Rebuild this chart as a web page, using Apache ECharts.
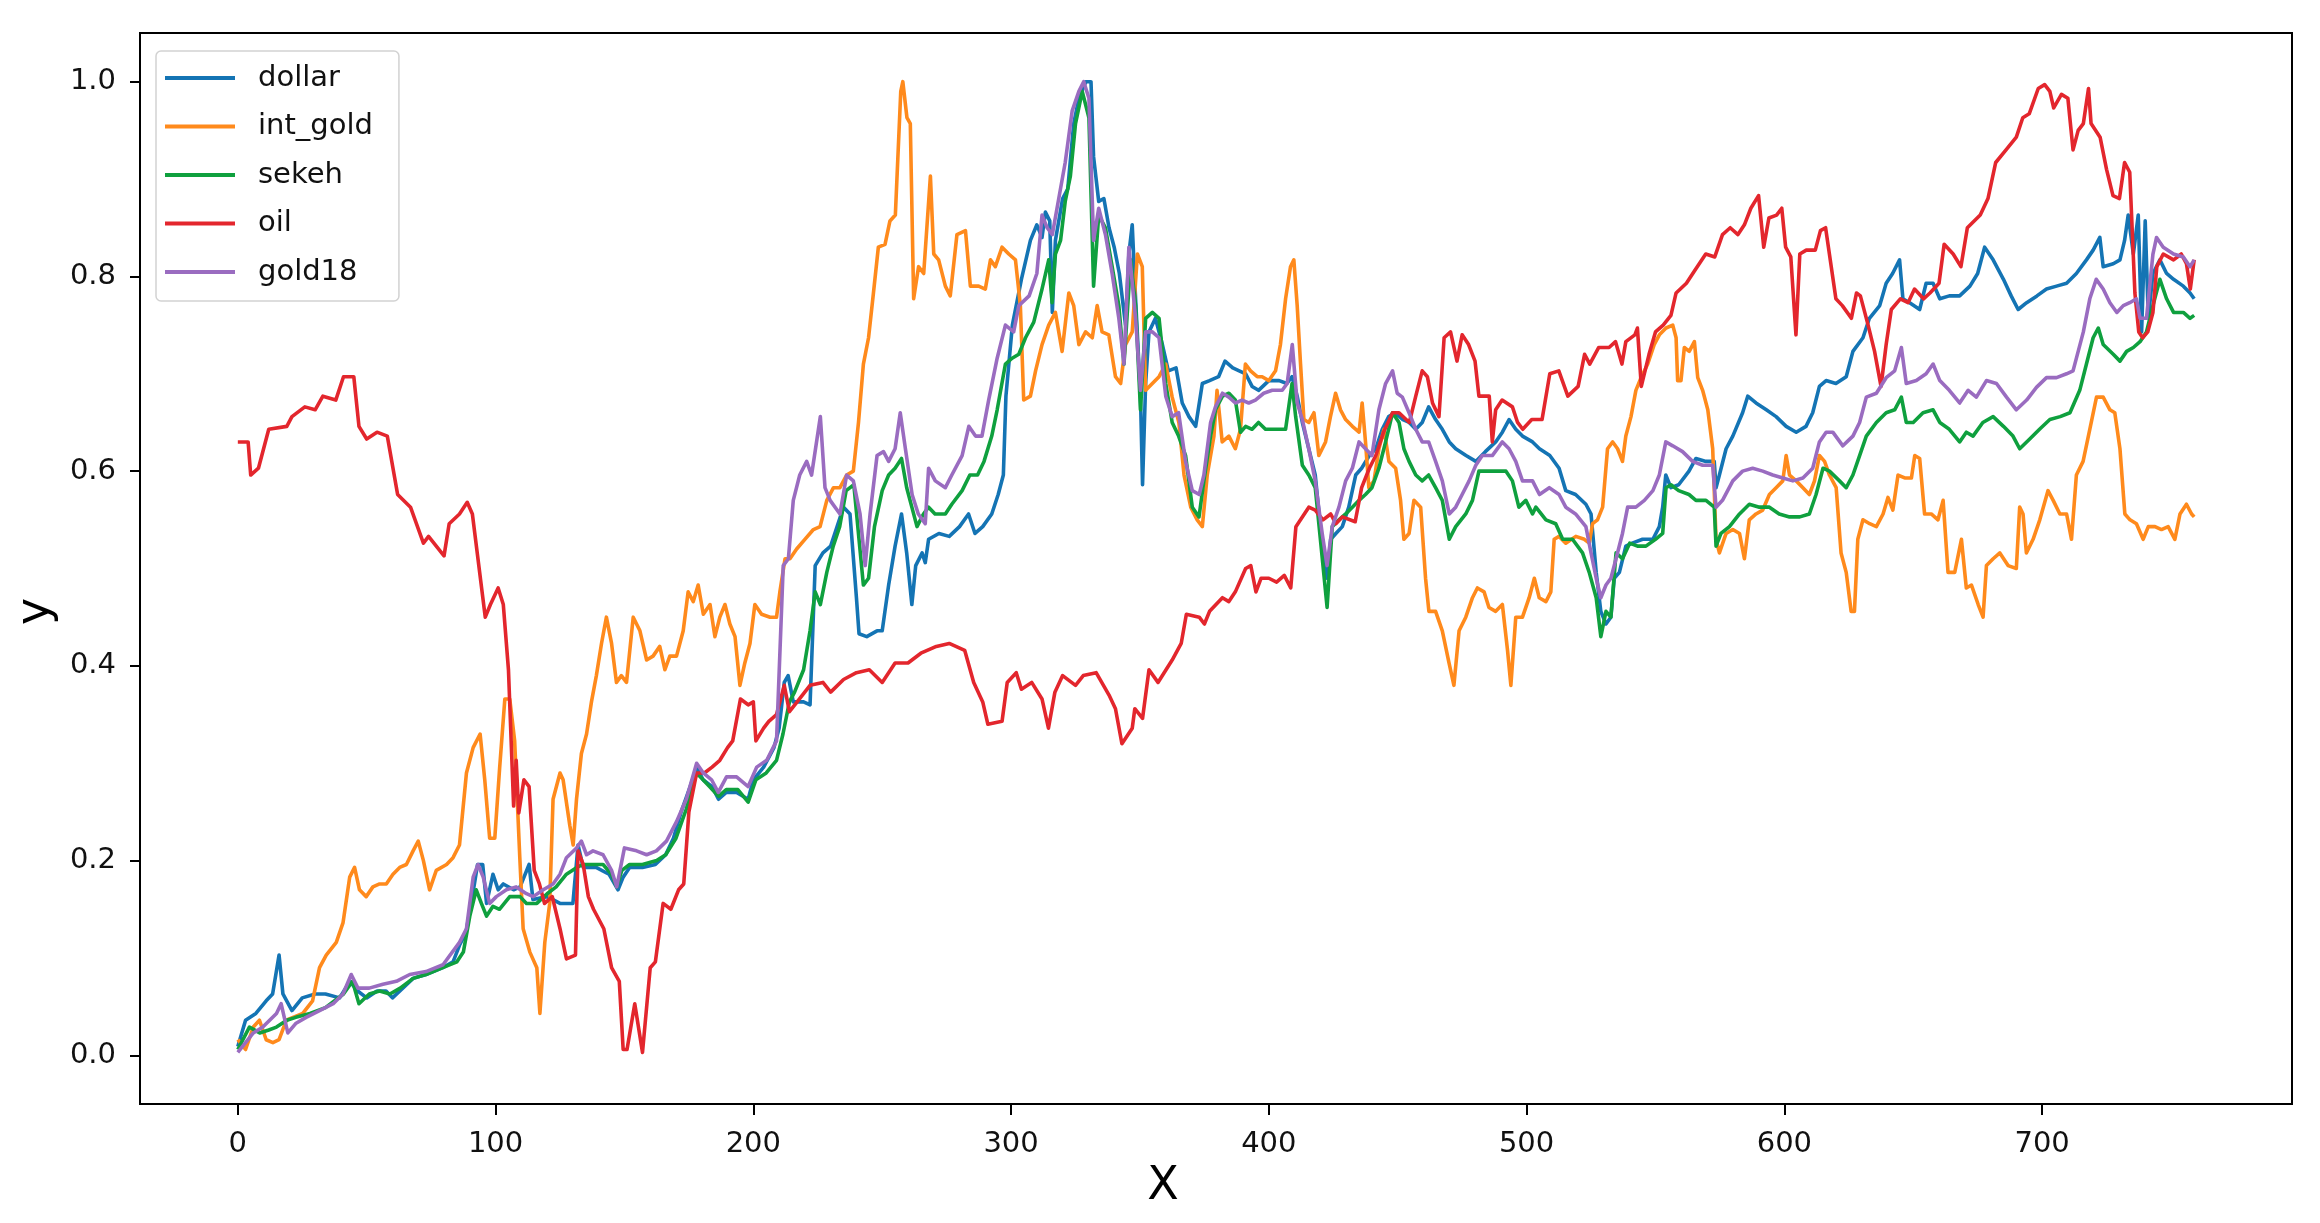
<!DOCTYPE html>
<html>
<head>
<meta charset="utf-8">
<title>dollar / int_gold / sekeh / oil / gold18</title>
<script src="https://cdn.jsdelivr.net/npm/echarts@6/dist/echarts.min.js"></script>
<style>
    html, body {margin:0;padding:0;background:#fff;}
    #chart {width:2320px;height:1223px;}
</style>
</head>
<body>
<div id="chart"></div>
<script>
    // values, [x, y]
    var names = ['dollar', 'int_gold', 'sekeh', 'oil', 'gold18'];
    var colors = ['#1474b4', '#ff8a1c', '#0fa03e', '#e3262d', '#9a6cc0'];
    var xTicks = [0, 100, 200, 300, 400, 500, 600, 700];
    var yTicks = [0, 0.2, 0.4, 0.6, 0.8, 1.0];

    var dollar = [[0,0.009],[3,0.036],[7,0.043],[11,0.056],[13.5,0.063],[16,0.103],[17.5,0.063],[21,0.046],[25,0.059],[30,0.063],[34,0.063],[39.5,0.059],[43.5,0.076],[46.5,0.066],[50,0.059],[54,0.066],[57.5,0.066],[60,0.059],[64,0.069],[68,0.079],[73,0.083],[79.5,0.09],[83.5,0.096],[86,0.113],[88.5,0.126],[91,0.163],[93,0.196],[95,0.196],[96.5,0.156],[99,0.186],[101,0.17],[103,0.176],[107,0.17],[109.5,0.173],[113,0.196],[114.5,0.16],[120,0.163],[125,0.156],
        [130,0.156],[132,0.216],[134,0.193],[139,0.193],[144,0.186],[147.5,0.17],[149.5,0.183],[152,0.193],[157,0.193],[162,0.196],[166,0.206],[169,0.223],[172,0.25],[175.5,0.276],[178,0.296],[180.5,0.283],[184,0.276],[186.5,0.263],[189.5,0.27],[193.5,0.27],[198,0.263],[200,0.283],[204,0.296],[208,0.316],[210,0.336],[212,0.383],[213.5,0.39],[215.5,0.363],[219.5,0.363],[222,0.36],[224,0.503],[227,0.516],[230,0.523],[232.5,0.543],[235,0.563],[237.5,0.556],[240,0.47],[241,0.433],[244,0.43],[248,0.436],[250,0.436],
        [252.5,0.483],[255,0.523],[257.5,0.556],[259.5,0.516],[261.5,0.463],[263,0.503],[265.5,0.516],[266.7,0.506],[268,0.53],[272,0.536],[276,0.533],[280,0.543],[283.5,0.556],[286,0.536],[289,0.543],[292.5,0.556],[295,0.576],[297,0.596],[298,0.677],[300.5,0.75],[304,0.797],[307.5,0.837],[310,0.853],[312,0.84],[313.3,0.866],[315,0.857],[316,0.763],[317.2,0.837],[320,0.88],[322,0.89],[324.3,0.957],[326.3,0.983],[329,1.0],[331,1.0],[332,0.923],[334,0.877],[336,0.88],[338,0.85],[340,0.83],[342,0.803],[344.4,0.75],[345.7,0.823],[347,0.853],[348.3,0.777],[350.2,0.677],[351,0.586],[352.2,0.69],[353.5,0.743],[356,0.757],[358.7,0.73],[361,0.703],[364,0.706],[366.4,0.67],[369,0.656],[371.6,0.646],[374.2,0.69],[377,0.693],
        [380.5,0.697],[383,0.713],[386,0.706],[388.5,0.703],[391,0.7],[393.5,0.687],[396,0.683],[400,0.693],[404,0.693],[407,0.69],[409,0.697],[411,0.677],[413,0.65],[415.5,0.623],[418,0.596],[420,0.543],[422.6,0.49],[424,0.53],[426,0.536],[428.5,0.543],[431,0.563],[433.7,0.596],[436,0.603],[439,0.616],[441.5,0.623],[444,0.643],[446.5,0.656],[449,0.66],[452,0.653],[454.5,0.65],[457,0.643],[459.5,0.65],[462,0.666],[464.7,0.653],[467.3,0.643],[470,0.63],[472.5,0.623],[476.5,0.616],[480.3,0.61],[484,0.62],[488,0.63],[490.6,0.64],[493.2,0.653],[495.8,0.643],[498.4,0.636],[502.3,0.63],
        [505,0.623],[509,0.616],[512.6,0.603],[515.2,0.58],[519,0.576],[523,0.566],[525,0.556],[527,0.496],[528.8,0.456],[530.8,0.443],[532.7,0.45],[534,0.49],[536,0.496],[538.5,0.523],[541,0.526],[545,0.53],[549,0.53],[551.5,0.543],[552.8,0.563],[554,0.596],[556,0.583],[559,0.586],[563,0.6],[565.7,0.613],[569.6,0.61],[572.8,0.61],[573.5,0.583],[574.8,0.596],[577.4,0.623],[580,0.636],[583.8,0.66],[585.8,0.677],[589,0.67],[593,0.663],[596.8,0.656],[600.7,0.646],[604.6,0.64],[608.4,0.646],[611,0.66],[613.6,0.687],[616.2,0.693],[620,0.69],[624,0.697],[626.6,0.723],
        [630.5,0.737],[633,0.757],[637,0.77],[639.5,0.793],[642,0.803],[644.7,0.817],[646,0.777],[648.6,0.773],[652.5,0.766],[655,0.793],[657.7,0.793],[660.3,0.777],[664,0.78],[668,0.78],[672,0.79],[675,0.803],[677.7,0.83],[681,0.817],[685,0.797],[688,0.78],[690.7,0.766],[694,0.773],[698,0.78],[701.7,0.787],[705.6,0.79],[709.5,0.793],[713.3,0.803],[717.2,0.817],[719.8,0.827],[722.4,0.84],[723.7,0.81],[727.6,0.813],[730.2,0.817],[732,0.837],[733.4,0.863],[735.4,0.823],[737.3,0.863],[738.6,0.743],[740,0.857],[741.2,0.757],[743,0.803],[745.7,0.817],[748.3,0.803],[751,0.797],[754.8,0.79],[757.4,0.783],[759,0.777]];

    var intGold = [[0,0.016],[3,0.006],[6,0.029],[8.4,0.036],[11,0.016],[13.6,0.013],[16,0.016],[18.8,0.036],[21.4,0.039],[25.2,0.043],[29,0.056],[31.7,0.09],[34.3,0.103],[38.2,0.116],[40.8,0.136],[43.4,0.183],[45.3,0.193],[47.2,0.17],[49.8,0.163],[52.4,0.173],[55,0.176],[57.6,0.176],[60.2,0.186],[62.8,0.193],[65.4,0.196],[68,0.21],[70,0.22],[72,0.2],[74.4,0.17],[77,0.19],[81,0.196],[83.5,0.203],[86,0.216],[88.7,0.29],[91.3,0.316],[94,0.33],[95.8,0.283],[97.7,0.223],[99.7,0.223],[101.6,0.296],[103.6,0.366],[105.5,0.366],[107.4,0.323],[109.4,0.203],[110.7,0.13],[113.3,0.106],[116,0.09],[117.2,0.043],[119.1,0.116],[121,0.156],[122.3,0.263],[125,0.29],
        [126.2,0.283],[128.8,0.236],[130.1,0.216],[131.4,0.263],[133.3,0.31],[135.3,0.33],[137.2,0.363],[139.1,0.39],[141.1,0.423],[143,0.45],[145,0.423],[146.9,0.383],[148.8,0.39],[150.8,0.383],[153.4,0.45],[156,0.436],[158.6,0.406],[161.1,0.41],[163.7,0.42],[165.7,0.396],[167.6,0.41],[170.2,0.41],[172.8,0.436],[174.7,0.476],[176.7,0.466],[178.6,0.483],[180.6,0.453],[183.2,0.463],[185.1,0.43],[187,0.45],[189,0.463],[190.9,0.443],[192.9,0.43],[194.8,0.38],[196.7,0.403],[198.7,0.423],[200.6,0.463],[203.2,0.453],[206.5,0.45],[209,0.45],[210.3,0.476],[212.3,0.51],[214.2,0.51],[216.8,0.52],[220,0.53],[223.3,0.54],[225.9,0.543],[228.5,0.57],[231.1,0.583],[233.6,0.583],[236.2,0.596],[238.8,0.6],[240.8,0.65],[242.7,0.71],[244.7,0.737],[246.6,0.783],[248.5,0.83],[251.1,0.833],
        [253,0.857],[255.1,0.863],[257.2,0.99],[258,1.0],[259.6,0.963],[260.9,0.957],[262.2,0.777],[264.1,0.81],[266.1,0.803],[268.7,0.903],[270,0.823],[271.9,0.817],[274.5,0.79],[276.4,0.78],[279,0.843],[282.3,0.847],[284.2,0.79],[287.4,0.79],[290,0.787],[292,0.817],[293.9,0.81],[296.5,0.83],[299.1,0.823],[301.7,0.817],[303.6,0.77],[304.9,0.673],[307.5,0.677],[309.5,0.703],[312,0.73],[314.6,0.75],[317.2,0.763],[319.8,0.723],[322.4,0.783],[324.3,0.77],[326.3,0.73],[328.9,0.743],[331.5,0.737],[333.4,0.77],[335.3,0.743],[337.9,0.74],[340.5,0.697],[342.5,0.69],[344.4,0.73],[347,0.743],[349,0.823],[350.9,0.81],[352.2,0.683],[354.8,0.69],[357.4,0.697],[360,0.71],[362.5,0.676],[365.1,0.65],[367.1,0.596],[369.7,0.563],[372.2,0.55],[374.2,0.543],[376.1,0.596],[378.7,0.636],
        [379.9,0.683],[381.9,0.63],[384.5,0.636],[387,0.623],[389,0.643],[390.9,0.71],[392.9,0.703],[395.5,0.697],[397.4,0.697],[400,0.693],[402.6,0.703],[404.5,0.73],[406.5,0.777],[408.4,0.81],[409.7,0.817],[411,0.77],[412.3,0.71],[413.6,0.653],[415.5,0.65],[417.5,0.66],[419.4,0.616],[422,0.63],[423.9,0.656],[425.9,0.68],[427.8,0.663],[429.8,0.653],[432.4,0.646],[435,0.64],[436.2,0.67],[437.5,0.63],[438.8,0.583],[440.8,0.59],[442.7,0.623],[444.7,0.643],[446.6,0.61],[449.2,0.603],[451.1,0.57],[452.4,0.53],[454.4,0.536],[456.3,0.57],[458.9,0.563],[460.8,0.49],[462.1,0.456],[464.7,0.456],[467.3,0.436],[469.9,0.403],[471.8,0.38],[473.8,0.436],[476.4,0.45],[479,0.47],[480.9,0.48],[483.5,0.476],[485.4,0.46],[488,0.456],[490.6,0.463],[492.6,0.416],[493.9,0.38],[495.8,0.45],[498.4,0.45],[501,0.47],[503,0.49],
        [504.9,0.47],[507.5,0.466],[509.4,0.476],[510.7,0.53],[512.6,0.533],[515.2,0.526],[519.1,0.533],[522.4,0.53],[524.3,0.526],[525.6,0.546],[527.5,0.55],[529.5,0.563],[531.4,0.623],[533.4,0.63],[535.3,0.623],[537.2,0.61],[538.5,0.636],[540.5,0.656],[542.4,0.683],[544.4,0.696],[547,0.71],[549.5,0.73],[551.5,0.74],[554.1,0.747],[556.7,0.75],[558,0.737],[558.6,0.693],[559.9,0.693],[561.2,0.727],[563.1,0.723],[565.1,0.733],[566.4,0.696],[568.3,0.683],[570.3,0.663],[572.2,0.623],[573.5,0.53],[574.8,0.516],[577.4,0.536],[580,0.54],[582.6,0.536],[584.5,0.51],[586.4,0.55],[589,0.556],[591.6,0.56],[594.2,0.576],[596.8,0.583],[599.4,0.59],[600.7,0.616],[602,0.596],[604.6,0.59],[607.2,0.583],[609.7,0.576],[611.7,0.59],[613.6,0.616],[615.6,0.61],[617.5,0.596],[620.1,0.583],[622,0.516],[624,0.496],[625.9,0.456],[627.2,0.456],
        [628.5,0.53],[630.5,0.55],[633.1,0.546],[635.7,0.543],[638.3,0.556],[640.2,0.573],[642.1,0.56],[644.1,0.596],[646.7,0.593],[649.3,0.593],[650.6,0.616],[652.5,0.613],[654.4,0.556],[657,0.556],[659.6,0.55],[661.6,0.57],[663.5,0.496],[666.1,0.496],[668.7,0.53],[670.6,0.48],[672.6,0.483],[675.2,0.463],[677.1,0.45],[678.4,0.503],[681,0.51],[683.6,0.516],[686.8,0.503],[690,0.5],[691.3,0.563],[692.6,0.556],[693.9,0.516],[696.5,0.53],[699.1,0.55],[702.3,0.58],[704.3,0.57],[706.9,0.556],[709.5,0.556],[711.4,0.53],[713.3,0.596],[715.9,0.61],[718.5,0.643],[721.1,0.676],[723.7,0.676],[726.3,0.663],[728.2,0.66],[730.2,0.623],[732.1,0.556],[734.1,0.55],[736.6,0.546],[739.2,0.53],[741.2,0.543],[743.8,0.543],[746.3,0.54],[748.9,0.543],[751.5,0.53],[753.5,0.556],[756,0.566],[758,0.556],[759,0.553]];

    var sekeh = [[0,0.006],[4.5,0.029],[8.5,0.023],[12,0.026],[15,0.029],[19,0.036],[22.5,0.039],[28,0.043],[34,0.049],[41,0.063],[44.5,0.076],[47,0.053],[51,0.063],[55,0.066],[59,0.063],[63,0.069],[68,0.079],[73,0.083],[79.5,0.09],[85,0.096],[87.5,0.106],[90,0.143],[92.5,0.17],[94.5,0.156],[96.5,0.143],[99,0.153],[101.5,0.15],[105.5,0.163],[109.5,0.163],[112,0.156],[116,0.156],[120,0.166],[123.5,0.173],
        [127.5,0.186],[131.5,0.193],[134,0.196],[138,0.196],[141.7,0.196],[145,0.186],[147,0.173],[149,0.19],[152,0.196],[157,0.196],[162.5,0.2],[166,0.206],[170,0.223],[174,0.253],[178,0.29],[180.5,0.283],[183,0.276],[186.5,0.266],[189.5,0.273],[194,0.273],[198,0.26],[201,0.283],[205,0.29],[209,0.303],[211.5,0.33],[214,0.363],[216,0.373],[219.5,0.396],[222,0.436],[224,0.476],[226,0.463],[228.5,0.496],[231,0.523],[233.5,0.543],[236,0.58],[239,0.586],[241,0.53],[242.7,0.483],[244.7,0.49],[247,0.543],[250,0.58],
        [252.5,0.596],[255,0.603],[257.5,0.613],[259.5,0.583],[261.5,0.563],[263.5,0.543],[266,0.556],[268,0.563],[270.5,0.556],[274.5,0.556],[277,0.566],[281,0.58],[284,0.596],[287,0.596],[289.5,0.61],[292.5,0.636],[294.6,0.663],[297.8,0.71],[300.4,0.716],[303,0.72],[305.6,0.737],[308.8,0.753],[312,0.787],[314.6,0.817],[315.9,0.773],[317.2,0.823],[319.2,0.837],[321,0.877],[323,0.903],[325,0.957],[327.6,0.99],[330.2,0.963],[332,0.79],[334,0.863],[336.6,0.85],[339.2,0.81],[341.8,0.77],[343.8,0.71],[346.4,0.817],[348.3,0.77],[350.2,0.663],[352.2,0.757],[354.8,0.763],[357.4,0.757],[360,0.69],[362.5,0.65],[365,0.636],[367.7,0.616],[370.3,0.563],[372.9,0.553],[374.8,0.59],[377.4,0.636],
        [379.3,0.663],[382,0.677],[384.5,0.68],[387,0.673],[389,0.64],[391,0.646],[393.5,0.643],[396,0.65],[398.7,0.643],[402.6,0.643],[406.5,0.643],[409,0.69],[410.4,0.656],[413,0.606],[415.5,0.596],[418,0.583],[420,0.53],[422.6,0.46],[424.6,0.543],[427.2,0.55],[429.8,0.556],[432.4,0.563],[435,0.57],[437.5,0.576],[440,0.583],[442.7,0.603],[445.3,0.63],[448,0.66],[450.5,0.65],[452.4,0.623],[454.4,0.61],[457,0.596],[459.5,0.59],[462,0.596],[464.7,0.583],[467.3,0.57],[470,0.53],[472.5,0.543],[476.4,0.556],[479,0.57],[481.5,0.6],[486.7,0.6],[492,0.6],[494.5,0.59],[497,0.563],[499.7,0.57],[502.3,0.556],
        [503.6,0.563],[507.5,0.55],[511.3,0.546],[514,0.53],[517.8,0.53],[521.7,0.516],[524.3,0.496],[527,0.47],[528.8,0.43],[530.8,0.456],[532.7,0.45],[534.7,0.516],[537.2,0.51],[540,0.526],[543,0.523],[546.3,0.523],[550,0.53],[552.8,0.536],[554.1,0.583],[556,0.586],[559,0.58],[563,0.576],[565.7,0.57],[569.6,0.57],[572.8,0.563],[573.5,0.523],[575.4,0.536],[578.7,0.543],[582.6,0.556],[586.4,0.566],[590.3,0.563],[594.2,0.563],[598,0.556],[602,0.553],[606,0.553],[609.7,0.556],[612.3,0.576],[615,0.603],[617.5,0.6],[621.4,0.59],[624,0.583],[626.6,0.596],
        [629.2,0.616],[631.8,0.636],[635.7,0.65],[639.5,0.66],[642.8,0.663],[645.4,0.676],[647.3,0.65],[650,0.65],[653.8,0.66],[657.7,0.663],[660.3,0.65],[664,0.643],[668,0.63],[670.6,0.64],[673.2,0.636],[677,0.65],[681,0.656],[685,0.646],[688.7,0.636],[691.3,0.623],[695.2,0.633],[699,0.643],[703,0.653],[707,0.656],[710.8,0.66],[714.6,0.683],[717.2,0.71],[719.8,0.737],[721.8,0.747],[723.7,0.73],[727.6,0.72],[730.2,0.713],[732.8,0.723],[735.4,0.727],[738,0.733],[740.5,0.743],[743,0.77],[745.7,0.797],[748.3,0.777],[751,0.763],[754.8,0.763],[757.4,0.757],[759,0.76]];

    var oil = [[0,0.63],[4,0.63],[5,0.596],[8,0.603],[12,0.643],[19,0.646],[21,0.656],[26,0.666],[30,0.663],[33,0.677],[38,0.673],[41,0.697],[45,0.697],[47,0.646],[50,0.633],[54,0.64],[58,0.636],[62,0.576],[67,0.563],[72,0.526],[74,0.533],[80,0.513],[82,0.546],[86,0.556],[89,0.568],[91,0.556],[96,0.45],[98,0.463],[101,0.48],[103,0.463],[105,0.396],[107,0.256],[108,0.303],[109,0.249],[111,0.283],[113,0.276],[115,0.19],[117,0.176],[119,0.156],[122,0.163],[125,0.13],
        [127.5,0.099],[131,0.103],[132,0.21],[134,0.196],[136,0.163],[138,0.15],[142,0.13],[145,0.09],[148,0.076],[149.5,0.006],[151,0.006],[154,0.053],[157,0.003],[160,0.09],[162,0.096],[165,0.156],[168,0.15],[171,0.17],[173,0.176],[175,0.25],[178,0.29],[181,0.29],[184,0.296],[187,0.303],[190,0.316],[192,0.323],[195,0.366],[198,0.36],[200,0.363],[201,0.323],[204,0.336],[206,0.343],[209,0.35],[212,0.38],[214,0.353],[217,0.363],[222,0.38],[227,0.383],[230,0.373],[235,0.386],[240,0.393],[245,0.396],[250,0.383],
        [255,0.403],[260,0.403],[265,0.413],[271,0.42],[276,0.423],[282,0.416],[285.5,0.383],[289,0.363],[291,0.34],[296.5,0.343],[298.5,0.383],[302,0.393],[304,0.376],[308,0.383],[312,0.366],[314.5,0.336],[317,0.373],[320,0.39],[325,0.38],[328,0.39],[333,0.393],[338,0.37],[340.5,0.356],[343,0.32],[347,0.336],[348,0.356],[351,0.346],[353.5,0.396],[357,0.383],[362.5,0.406],[366,0.423],[368,0.453],[373,0.45],[375,0.443],[377,0.456],
        [382,0.47],[384.5,0.466],[387,0.476],[391,0.5],[393,0.503],[395,0.476],[397,0.49],[400,0.49],[403,0.486],[406,0.493],[408.5,0.48],[410.5,0.543],[413,0.553],[415.5,0.563],[418,0.56],[421,0.55],[424,0.556],[426,0.546],[428.5,0.553],[433.5,0.548],[436,0.583],[439,0.603],[441.5,0.616],[444.5,0.64],[448,0.66],[450.5,0.66],[454.5,0.65],[457,0.677],[459.5,0.703],[461.5,0.697],[463.5,0.67],[466,0.656],[468,0.737],[470.5,0.743],[473,0.713],[475,0.74],[477.5,0.73],[480,0.713],[481.5,0.677],[485.5,0.677],[486.7,0.63],[488,0.663],[490.5,0.673],[494.5,0.666],[496.5,0.65],[498.5,0.643],[502,0.653],
        [506,0.653],[509,0.7],[512.5,0.703],[516,0.677],[520,0.687],[522.5,0.72],[524.5,0.71],[528,0.727],[532,0.727],[534.5,0.733],[537,0.71],[538.5,0.733],[542,0.74],[543,0.747],[544.5,0.687],[547.5,0.72],[550,0.743],[553,0.75],[556,0.76],[558,0.783],[562,0.793],[565.5,0.807],[569.5,0.823],[573,0.82],[576,0.843],[579,0.85],[582,0.843],[584.5,0.853],[587,0.87],[590,0.883],[592,0.83],[594,0.86],[597,0.863],[599,0.87],[600.5,0.83],[602.5,0.82],[604.5,0.74],[606,0.823],[608.5,0.827],[612,0.827],[614,0.847],[616,0.85],[620,0.777],[622.5,0.77],[626,0.757],[628,0.783],
        [629.5,0.78],[632.5,0.75],[635,0.723],[637.5,0.687],[639.5,0.73],[641.5,0.766],[645,0.777],[648,0.773],[650.5,0.787],[654,0.777],[656.5,0.783],[660,0.793],[662,0.833],[665.5,0.823],[668.5,0.81],[671,0.85],[676,0.863],[679,0.88],[682,0.917],[686,0.93],[690,0.943],[692.5,0.963],[695,0.967],[698.5,0.993],[701,0.997],[703,0.99],[704.5,0.973],[707.5,0.987],[710,0.983],[712,0.93],[714,0.95],[716,0.957],[718,0.993],[719,0.957],[722.5,0.943],[725,0.91],[727.5,0.883],[730,0.88],[732,0.917],[734,0.907],[736,0.783],[737.5,0.743],[739,0.737],[741,0.743],[743,0.763],[744.5,0.81],[747,0.823],[751,0.817],[754,0.823],[756,0.813],[757.5,0.787],[759,0.817]];

    var gold18 = [[0,0.003],[6,0.023],[9.7,0.029],[15,0.043],[16.8,0.053],[19.4,0.023],[22.6,0.033],[26.5,0.039],[31.7,0.046],[37,0.053],[40.8,0.063],[44,0.083],[46.6,0.069],[51,0.069],[56.3,0.073],[61.5,0.076],[66.7,0.083],[73,0.086],[79.6,0.093],[86,0.116],[88.7,0.13],[91.3,0.183],[93.2,0.196],[95.2,0.183],[97.7,0.156],[100.3,0.163],[104.2,0.17],[108,0.173],[112,0.166],[114.6,0.163],[118.5,0.17],[122.3,0.176],[125,0.186],
        [127.5,0.203],[131.4,0.213],[133.3,0.22],[135.3,0.206],[137.8,0.21],[141.7,0.206],[145,0.19],[147,0.173],[150,0.213],[154.7,0.21],[158.6,0.206],[162.4,0.21],[166.3,0.22],[170.2,0.24],[174,0.263],[178,0.3],[180.6,0.29],[183.8,0.283],[186.4,0.27],[189.6,0.286],[193.5,0.286],[198,0.276],[201.3,0.296],[205.2,0.303],[209,0.323],[211.6,0.503],[213.6,0.51],[215.5,0.57],[218,0.596],[220.7,0.61],[222.6,0.596],[226,0.656],[227.8,0.583],[229.8,0.57],[233.6,0.556],[236.2,0.596],[238.8,0.59],[241.4,0.556],[243.4,0.503],[245.3,0.556],[248,0.616],[250.5,0.62],
        [252.5,0.61],[255,0.623],[257,0.66],[259,0.623],[261.6,0.576],[264,0.556],[266.7,0.546],[268,0.603],[270.6,0.59],[274.5,0.583],[277,0.596],[281,0.616],[283.6,0.646],[286.2,0.636],[288.7,0.636],[291.3,0.673],[294.6,0.716],[297.8,0.75],[301,0.743],[303,0.77],[307,0.78],[310,0.803],[312,0.863],[314,0.85],[316,0.843],[318.5,0.88],[321,0.917],[323.7,0.97],[326.3,0.99],[328.2,1.0],[330.2,0.983],[332,0.837],[334,0.87],[336.6,0.843],[339.2,0.803],[341.8,0.757],[343.8,0.71],[345.7,0.83],[348.3,0.757],[350.2,0.683],[352.2,0.743],[354.8,0.743],[357.4,0.737],[360,0.677],[362.5,0.656],[365,0.66],[367.7,0.61],[370.3,0.58],[373,0.576],[374.8,0.596],[377.4,0.65],
        [379.3,0.666],[382,0.68],[384.5,0.676],[387,0.67],[389.6,0.673],[392.2,0.67],[394.8,0.673],[398,0.68],[401.3,0.683],[405.2,0.683],[407.1,0.69],[409.1,0.73],[411,0.67],[413,0.653],[415.5,0.623],[418,0.59],[420.7,0.536],[422.6,0.503],[424.6,0.543],[427.2,0.563],[429.8,0.59],[432.4,0.603],[435,0.63],[437.5,0.623],[440,0.616],[442.7,0.663],[445.3,0.69],[448,0.703],[449.8,0.68],[451.8,0.676],[454.4,0.66],[457,0.643],[459.5,0.63],[462,0.63],[464.7,0.61],[467.3,0.59],[470,0.556],[472.5,0.563],[475,0.576],[477.7,0.59],[480.3,0.606],[482.8,0.616],[486.7,0.616],[490.6,0.63],[493.2,0.623],[495.8,0.61],[498.4,0.59],[502.3,0.59],
        [505,0.576],[508.8,0.583],[512.6,0.576],[515.2,0.563],[519,0.556],[523,0.543],[525,0.516],[527,0.49],[528.8,0.47],[530.8,0.483],[532.7,0.49],[534.7,0.51],[537.2,0.536],[539.2,0.563],[542.4,0.563],[545.7,0.57],[549,0.58],[551.5,0.596],[554,0.63],[556.7,0.626],[560.5,0.62],[564.4,0.61],[568.3,0.606],[572.2,0.606],[573.5,0.563],[576,0.57],[580,0.59],[583.8,0.6],[587.7,0.603],[591.6,0.6],[595.5,0.596],[599.4,0.593],[603.3,0.59],[607.2,0.593],[611,0.603],[613.6,0.63],[616.2,0.64],[618.8,0.64],[622.7,0.626],[626.6,0.636],
        [629.2,0.65],[631.8,0.676],[635.7,0.68],[639.5,0.696],[642.8,0.703],[645.4,0.727],[647.3,0.69],[651.2,0.693],[655,0.7],[657.7,0.71],[660.3,0.693],[664,0.683],[668,0.67],[671.3,0.683],[674.5,0.676],[678.4,0.693],[682.3,0.69],[686.2,0.676],[690,0.663],[694,0.673],[697.8,0.686],[701.7,0.696],[705.6,0.696],[709.5,0.7],[712,0.703],[716,0.743],[718.5,0.777],[721,0.797],[723.7,0.787],[726.3,0.773],[729,0.763],[731.5,0.77],[734,0.773],[736.6,0.777],[738,0.757],[740.5,0.757],[743,0.823],[744.4,0.84],[747,0.83],[751,0.823],[754.8,0.82],[757.4,0.81],[759,0.817]];

    var seriesData = [dollar, intGold, sekeh, oil, gold18];

    var dom = document.getElementById("chart");
    var myChart = echarts.init(dom, null, {renderer: 'canvas'});
    var font = 'DejaVu Sans';

    var series = [];
    for (var i = 0; i < names.length; i++) {
        series.push({
            name: names[i],
            type: 'line',
            data: seriesData[i],
            color: colors[i],
            showSymbol: false,
            symbol: 'none',
            lineStyle: {width: 3.6, join: 'round'},
            emphasis: {disabled: true}
        });
    }

    var option = {
        animation: false,
        backgroundColor: '#fff',
        grid: {
            left: 140,
            right: 28,
            top: 33,
            bottom: 119,
            containLabel: false,
            outerBoundsMode: 'none',
            show: true,
            borderColor: '#000',
            borderWidth: 2
        },
        legend: {
            data: names,
            orient: 'vertical',
            left: 156,
            top: 51,
            padding: [12, 26, 14, 9],
            itemWidth: 70,
            itemHeight: 4,
            itemGap: 18.5,
            icon: 'rect',
            borderColor: '#d2d2d2',
            borderWidth: 1.5,
            borderRadius: 5,
            backgroundColor: 'rgba(255,255,255,0.8)',
            textStyle: {
                fontFamily: font,
                fontSize: 29,
                lineHeight: 30,
                color: '#111',
                padding: [0, 0, 0, 18]
            }
        },
        xAxis: {
            type: 'value',
            min: -37.95,
            max: 796.95,
            name: 'X',
            nameLocation: 'middle',
            nameGap: 45,
            nameTextStyle: {fontFamily: font, fontSize: 46, color: '#000', padding: [0, 106, 0, 0]},
            splitLine: {show: false},
            axisLine: {show: true, onZero: false, lineStyle: {color: '#000', width: 2}},
            axisTick: {show: true, customValues: xTicks, length: 11, lineStyle: {color: '#000', width: 2}},
            axisLabel: {customValues: xTicks, margin: 26, fontFamily: font, fontSize: 29, color: '#111'}
        },
        yAxis: {
            type: 'value',
            min: -0.05,
            max: 1.05,
            name: 'y',
            nameLocation: 'middle',
            nameRotate: 90,
            nameGap: 75,
            nameTextStyle: {fontFamily: font, fontSize: 46, color: '#000', padding: [0, 86, 0, 0]},
            splitLine: {show: false},
            axisLine: {show: true, onZero: false, lineStyle: {color: '#000', width: 2}},
            axisTick: {show: true, customValues: yTicks, length: 10, lineStyle: {color: '#000', width: 2}},
            axisLabel: {
                customValues: yTicks,
                margin: 24,
                fontFamily: font,
                fontSize: 29,
                color: '#111',
                formatter: function (v) { return v.toFixed(1); }
            }
        },
        series: series
    };

    if (option && typeof option === "object") {
        myChart.setOption(option, true);
    }
</script>
</body>
</html>
